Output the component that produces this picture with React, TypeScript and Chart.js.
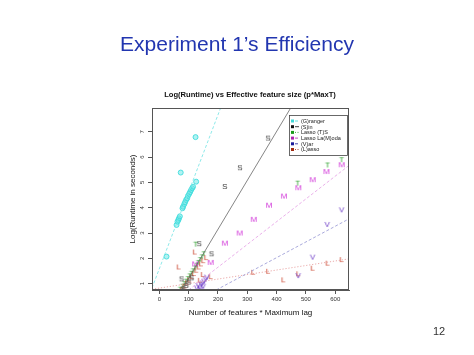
import React, { useEffect, useRef } from "react";
import { Chart, registerables } from "chart.js";
Chart.register(...registerables);

const xTicks = [0, 100, 200, 300, 400, 500, 600];
const yTicks = [1, 2, 3, 4, 5, 6, 7];

const grangerX = [24.5, 58.7, 62, 65, 67, 70, 73, 79, 81, 85, 88, 91.5, 95, 98, 102, 105, 108.5, 112, 115, 123.5, 125.6];
const grangerY = [2.07, 3.32, 3.45, 3.52, 3.58, 3.66, 5.39, 3.98, 4.04, 4.14, 4.22, 4.31, 4.37, 4.47, 4.55, 4.62, 4.7, 4.77, 4.83, 6.79, 5.03];

const sinX = [371, 275, 223.5, 136, 178, 76, 82, 92, 100, 110];
const sinY = [6.77, 5.6, 4.86, 2.6, 2.2, 1.21, 0.82, 0.95, 1.08, 1.25];

const tsX = [72, 80, 86, 92, 98, 104, 110, 116, 122, 128, 134, 140, 146, 152, 124, 472, 574, 622];
const tsY = [0.8, 0.92, 1.02, 1.12, 1.22, 1.33, 1.43, 1.53, 1.64, 1.75, 1.86, 1.97, 2.08, 2.2, 2.58, 4.99, 5.71, 5.92];

const modaX = [622, 570, 523, 474, 425, 374, 322, 274, 223.5, 175, 122];
const modaY = [5.72, 5.45, 5.13, 4.81, 4.48, 4.12, 3.56, 3.02, 2.62, 1.86, 1.8];

const varX = [622, 573, 523, 474, 128, 133, 138, 143, 148, 153, 158, 162, 140, 150];
const varY = [3.94, 3.36, 2.07, 1.34, 0.85, 0.95, 0.88, 1.0, 1.05, 1.12, 1.2, 1.28, 0.8, 0.92];

const lassoX = [66, 78, 86, 94, 102, 110, 118, 126, 134, 142, 150, 160, 121, 138, 148, 175, 320, 371, 423, 474, 523, 574, 622];
const lassoY = [1.68, 0.8, 0.93, 1.05, 1.17, 1.3, 1.42, 1.55, 1.68, 1.8, 1.93, 2.05, 2.27, 1.15, 1.38, 1.3, 1.47, 1.51, 1.17, 1.41, 1.63, 1.83, 1.97];

// fitted lines (endpoints)
const grangerLineX = [-25, 209];
const grangerLineY = [0.83, 7.94];
const sinLineX = [76, 448];
const sinLineY = [0.75, 7.94];
const modaLineX = [100, 647];
const modaLineY = [0.75, 5.67];
const varLineX = [194, 647];
const varLineY = [0.75, 3.56];
const lassoLineX = [-25, 647];
const lassoLineY = [0.78, 1.98];

const legendLabels = ["(G)ranger", "(S)in", "Lasso (T)S", "Lasso La(M)oda", "(V)ar", "(L)asso"];
const legendColors = ["#40d8d8", "#111111", "#1a9a1a", "#b020b0", "#1a1a9a", "#a02a10"];

const zip = (xs: number[], ys: number[]) => xs.map((x, i) => ({ x, y: ys[i] }));

function letterCanvas(letter: string, color: string) {
  const c = document.createElement("canvas");
  c.width = 10;
  c.height = 10;
  const g = c.getContext("2d")!;
  g.fillStyle = color;
  g.font = "8px 'Liberation Sans', Arial, sans-serif";
  g.textAlign = "center";
  g.textBaseline = "middle";
  g.fillText(letter, 5, 5.5);
  return c;
}

export default function App() {
  const ref = useRef<HTMLCanvasElement>(null);
  useEffect(() => {
    document.body.style.margin = "0";
    const canvas = ref.current!;
    const lineDs = (xs: number[], ys: number[], color: string, dash: number[], width = 0.9) => ({
      type: "line" as const,
      data: zip(xs, ys),
      borderColor: color,
      borderWidth: width,
      borderDash: dash,
      pointRadius: 0,
      showLine: true,
      fill: false,
    });
    const ptDs = (xs: number[], ys: number[], style: any) => ({
      type: "scatter" as const,
      data: zip(xs, ys),
      pointStyle: style,
      pointRadius: 4,
      showLine: false,
    });

    const decor = {
      id: "decor",
      afterDraw(chart: any) {
        const ctx = chart.ctx;
        const a = chart.chartArea;
        const ys = chart.scales.y;
        ctx.save();
        // frame
        ctx.strokeStyle = "#555";
        ctx.lineWidth = 1;
        ctx.strokeRect(a.left + 0.5, a.top + 0.5, a.right - a.left - 1, a.bottom - a.top - 1);
        // rotated y tick labels
        ctx.fillStyle = "#333";
        ctx.font = "6px 'Liberation Sans', Arial, sans-serif";
        ctx.textAlign = "center";
        ctx.textBaseline = "middle";
        yTicks.forEach((v) => {
          const py = ys.getPixelForValue(v);
          ctx.save();
          ctx.translate(142, py);
          ctx.rotate(-Math.PI / 2);
          ctx.fillText(String(v), 0, 0);
          ctx.restore();
        });
        // main title
        ctx.fillStyle = "#2236b0";
        ctx.font = "21px 'Liberation Sans', Arial, sans-serif";
        ctx.fillText("Experiment 1\u2019s Efficiency", 237, 45);
        // subtitle
        ctx.fillStyle = "#111";
        ctx.font = "bold 7.6px 'Liberation Sans', Arial, sans-serif";
        ctx.fillText("Log(Runtime) vs Effective feature size (p*MaxT)", 250, 95);
        // page number
        ctx.fillStyle = "#333";
        ctx.font = "11px 'Liberation Sans', Arial, sans-serif";
        ctx.fillText("12", 439, 332);
        // legend
        const lx = 289, ly = 115, lw = 58, lh = 40;
        ctx.fillStyle = "#fff";
        ctx.fillRect(lx, ly, lw, lh);
        ctx.strokeStyle = "#444";
        ctx.lineWidth = 0.8;
        ctx.strokeRect(lx + 0.5, ly + 0.5, lw, lh);
        const dashes = [[3, 2], [], [1, 1.5], [3, 2], [3, 2], [1, 1.5]];
        ctx.font = "5.5px 'Liberation Sans', Arial, sans-serif";
        ctx.textAlign = "left";
        legendLabels.forEach((lab, i) => {
          const yy = 121 + i * 5.7;
          ctx.fillStyle = legendColors[i];
          ctx.fillRect(291, yy - 1.5, 3, 3);
          ctx.strokeStyle = legendColors[i];
          ctx.setLineDash(dashes[i]);
          ctx.beginPath();
          ctx.moveTo(295, yy);
          ctx.lineTo(299, yy);
          ctx.stroke();
          ctx.setLineDash([]);
          ctx.fillStyle = "#222";
          ctx.fillText(lab, 301, yy + 0.3);
        });
        ctx.restore();
      },
    };

    const chart = new Chart(canvas, {
      type: "scatter",
      data: {
        datasets: [
          lineDs(grangerLineX, grangerLineY, "#80e6e6", [3, 2]),
          lineDs(sinLineX, sinLineY, "#666666", [], 0.8),
          lineDs(modaLineX, modaLineY, "#e8a8e8", [3, 2]),
          lineDs(varLineX, varLineY, "#a0a0d8", [3, 2]),
          lineDs(lassoLineX, lassoLineY, "#e8a0a0", [1.2, 1.8]),
          {
            type: "scatter" as const,
            data: zip(grangerX, grangerY),
            pointStyle: "circle",
            pointRadius: 2.5,
            borderWidth: 0.9,
            borderColor: "#40dcdc",
            backgroundColor: "rgba(100,230,230,0.5)",
          },
          ptDs(sinX, sinY, letterCanvas("S", "#333333")),
          ptDs(modaX, modaY, letterCanvas("M", "#d030d8")),
          ptDs(varX, varY, letterCanvas("V", "#7040c8")),
          ptDs(lassoX, lassoY, letterCanvas("L", "#c83a22")),
          ptDs(tsX, tsY, letterCanvas("T", "#2aa02a")),
        ] as any,
      },
      options: {
        animation: false,
        responsive: false,
        devicePixelRatio: 1,
        layout: { padding: { left: 124, right: 125, top: 108, bottom: 33 } },
        plugins: { legend: { display: false }, tooltip: { enabled: false }, title: { display: false } },
        scales: {
          x: {
            type: "linear",
            min: -25,
            max: 647,
            afterFit: (s: any) => { s.height = 32; },
            afterBuildTicks: (s: any) => { s.ticks = xTicks.map((v) => ({ value: v })); },
            grid: { drawOnChartArea: false, drawTicks: true, tickLength: 4, color: "#555" },
            border: { display: true, color: "#555" },
            ticks: { color: "#333", font: { size: 6, family: "'Liberation Sans', Arial" }, padding: 2, maxRotation: 0, autoSkip: false },
            title: { display: true, text: "Number of features * Maximum lag", color: "#111", font: { size: 8, family: "'Liberation Sans', Arial" }, padding: { top: 2, bottom: 4 } },
          },
          y: {
            type: "linear",
            min: 0.75,
            max: 7.94,
            afterFit: (s: any) => { s.width = 28; },
            afterBuildTicks: (s: any) => { s.ticks = yTicks.map((v) => ({ value: v })); },
            grid: { drawOnChartArea: false, drawTicks: true, tickLength: 4, color: "#555" },
            border: { display: true, color: "#555" },
            ticks: { display: false },
            title: { display: true, text: "Log(Runtime in seconds)", color: "#111", font: { size: 8, family: "'Liberation Sans', Arial" }, padding: { top: 4, bottom: 2 } },
          },
        },
      },
      plugins: [decor],
    } as any);
    return () => chart.destroy();
  }, []);
  return (
    <div style={{ position: "relative", width: 474, height: 355 }}>
      <canvas ref={ref} width={474} height={355} />
    </div>
  );
}
